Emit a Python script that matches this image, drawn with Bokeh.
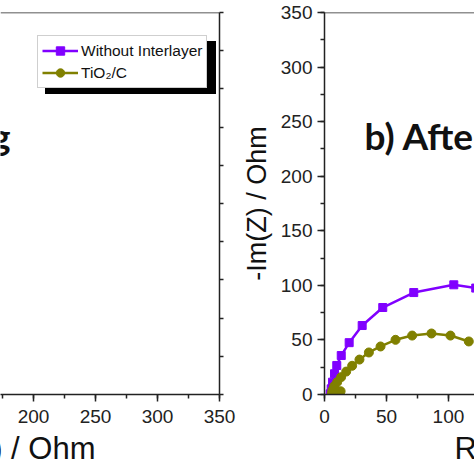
import math
from bokeh.plotting import figure
from bokeh.models import (Label, Legend, LegendItem, Span, SingleIntervalTicker,
                          CustomJSTickFormatter, Range1d, Title)
from bokeh.layouts import row
from bokeh.embed import file_html
from bokeh.resources import INLINE

# ---- data ----
re_without = [4.6, 5.4, 6.5, 8.1, 9.9, 13.5, 19.9, 30.4, 47.0, 72.0, 104.3, 122.0]
im_without = [0.6, 5.2, 11.3, 19.0, 26.6, 35.7, 47.5, 63.2, 79.7, 93.4, 100.5, 97.5]
re_tio2 = [13.0, 11.0, 9.0, 7.2, 6.0, 6.5, 7.8, 10.2, 13.4, 17.5, 22.3, 28.2, 35.8,
           45.2, 57.3, 70.7, 86.3, 101.6, 116.4]
im_tio2 = [3.0, 2.0, 1.5, 1.0, 1.5, 4.0, 7.5, 11.3, 15.9, 21.0, 26.3, 32.0, 38.5,
           44.0, 50.1, 54.0, 55.9, 54.0, 48.6]
series_names = ["Without Interlayer", "TiO\u2082/C"]
series_colors = ["#8000ff", "#808000"]
panel_titles = ["a) Before cycling", "b) After cycling"]
x_axis_title = "Re(Z) / Ohm"
y_axis_title = "-Im(Z) / Ohm"

FONT = "Liberation Sans"
AX = "#222222"
NAN = float("nan")


def style_axis(ax, tick_out=7, minor_out=4, standoff=5):
    ax.axis_line_color = AX
    ax.axis_line_width = 1.5
    ax.major_tick_line_color = AX
    ax.major_tick_line_width = 1.5
    ax.minor_tick_line_color = AX
    ax.minor_tick_line_width = 1.5
    ax.major_tick_out = tick_out
    ax.major_tick_in = 0
    ax.minor_tick_out = minor_out
    ax.minor_tick_in = 0
    ax.major_label_text_font = FONT
    ax.major_label_text_font_size = "19px"
    ax.major_label_text_color = AX
    ax.major_label_standoff = standoff


def x_title(text, align, offset):
    return Title(text=text, align=align, offset=offset, vertical_align="bottom",
                 standoff=7, text_font=FONT, text_font_size="31px",
                 text_font_style="normal", text_color="#111111")


# ---- left panel (only its right part is visible) ----
left = figure(width=236, height=474, x_range=Range1d(173.4, 350), y_range=Range1d(0, 500),
              y_axis_location="right", toolbar_location=None, output_backend="svg",
              min_border_left=0, min_border_right=17, min_border_top=12, min_border_bottom=80)
left.outline_line_color = None
left.grid.visible = False
left.xaxis.ticker = SingleIntervalTicker(interval=50, num_minor_ticks=2)
style_axis(left.xaxis[0], standoff=8)
left.yaxis.ticker = SingleIntervalTicker(interval=50, num_minor_ticks=0)
left.yaxis.formatter = CustomJSTickFormatter(code="return ''")
style_axis(left.yaxis[0], tick_out=4, minor_out=0)
left.add_layout(Span(location=500, dimension="width", line_color=AX, line_width=1.5))
left.add_layout(x_title(x_axis_title, "right", 124), "below")

# legend proxies (the left panel's own curves lie outside the visible part)
items_main, items_shadow = [], []
for name, col, mk, sz in zip(series_names, series_colors, ["square", "circle"], [8, 9]):
    ln = left.line(x=[NAN], y=[NAN], line_color=col, line_width=2.5)
    sc = left.scatter(x=[NAN], y=[NAN], marker=mk, size=sz, fill_color=col, line_color=col)
    items_main.append(LegendItem(label=name, renderers=[ln, sc]))
    items_shadow.append(LegendItem(label=" ", renderers=[ln, sc]))


def make_legend(items, loc, shadow):
    return Legend(items=items, location=loc, margin=0, padding=4, spacing=1,
                  glyph_width=36, glyph_height=21, label_height=21, label_standoff=3,
                  label_width=122 if shadow else 20,
                  label_text_font=FONT, label_text_font_size="15.5px",
                  label_text_color="black" if shadow else "#111111",
                  background_fill_color="black" if shadow else "white",
                  background_fill_alpha=1.0,
                  border_line_color="black" if shadow else "#a0a0a0",
                  border_line_width=1)


left.add_layout(make_legend(items_shadow, (45, 300), True))
left.add_layout(make_legend(items_main, (37, 306), False))

left.add_layout(Label(x=181.5, y=338.6, text=panel_titles[0], text_align="right",
                      text_baseline="alphabetic", text_font="Lato",
                      text_font_style="bold", text_font_size="37px", text_color="#111111"))

# ---- right panel ----
right = figure(width=238, height=474, x_range=Range1d(0, 121), y_range=Range1d(0, 350),
               toolbar_location=None, output_backend="svg",
               min_border_left=88, min_border_right=0, min_border_top=12, min_border_bottom=80)
right.outline_line_color = None
right.grid.visible = False
right.xaxis.ticker = SingleIntervalTicker(interval=50, num_minor_ticks=2)
right.yaxis.ticker = SingleIntervalTicker(interval=50, num_minor_ticks=2)
style_axis(right.xaxis[0], standoff=8)
style_axis(right.yaxis[0])
right.yaxis.axis_label = y_axis_title
right.yaxis.axis_label_standoff = 6
right.yaxis.axis_label_text_font = FONT
right.yaxis.axis_label_text_font_size = "27px"
right.yaxis.axis_label_text_font_style = "normal"
right.yaxis.axis_label_text_color = "#111111"
right.add_layout(Span(location=350, dimension="width", line_color=AX, line_width=1.5))
right.add_layout(x_title(x_axis_title, "left", 130), "below")

for xs, ys, col, mk, sz in [(re_without, im_without, series_colors[0], "square", 8),
                            (re_tio2, im_tio2, series_colors[1], "circle", 9)]:
    right.line(x=xs, y=ys, line_color=col, line_width=2.5)
    right.scatter(x=xs, y=ys, marker=mk, size=sz, fill_color=col, line_color=col)

right.add_layout(Label(x=32.3, y=237.3, text=panel_titles[1], text_align="left",
                       text_baseline="alphabetic", text_font="Lato",
                       text_font_style="bold", text_font_size="37px", text_color="#111111"))

layout = row(left, right)
open("out.html", "w").write(file_html(layout, INLINE))
